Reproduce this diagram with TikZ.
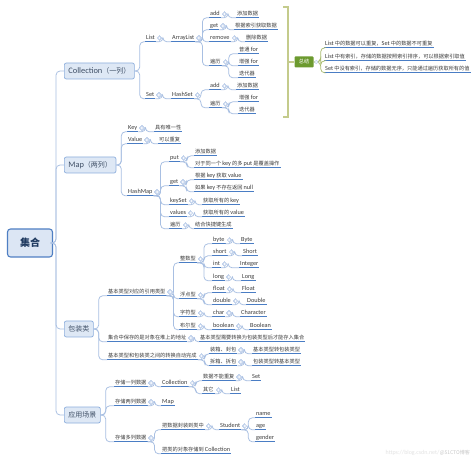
\documentclass[tikz,border=0pt]{standalone}
\usepackage{fontspec}
\setmainfont{Noto Sans CJK SC}
\newfontfamily\lat{Carlito}[Scale=1.2]
\usetikzlibrary{calc}

\definecolor{txtcol}{HTML}{3C3C3C}
\definecolor{ulcol}{HTML}{4A7DC4}
\definecolor{concol}{HTML}{A8BFE2}
\definecolor{knobcol}{HTML}{C3D3EC}
\definecolor{rootdraw}{HTML}{4F7FC3}
\definecolor{rootfill}{HTML}{DCE6F4}
\definecolor{roottxt}{HTML}{1F3A60}
\definecolor{boxdraw}{HTML}{8DAEDD}
\definecolor{boxfill}{HTML}{DEE8F5}
\definecolor{boxtxt}{HTML}{3F4F66}
\definecolor{sumfill}{HTML}{6C9A2F}
\definecolor{brkcol}{HTML}{C4CB8C}
\definecolor{sumcon}{HTML}{A9BC6E}

\newcommand\fsz{\fontsize{5.2}{6}\selectfont}
\newcommand\topiclink[3][7]{\draw[conn] (#2.south east) -- ++(#1,0) |- (#3.south west);}

\begin{document}
\begin{tikzpicture}[x=1pt,y=-1pt,
  topic/.style={anchor=west,inner xsep=1pt,inner ysep=0.6pt,text height=4.6pt,text depth=1.4pt,
    font=\fsz,text=txtcol,
    append after command={(\tikzlastnode.south west) edge[uline] (\tikzlastnode.south east)}},
  en/.style={topic,font=\fsz\lat},
  uline/.style={draw=ulcol,line width=1.1pt},
  conn/.style={draw=concol,line width=0.75pt,rounded corners=4pt},
  knob/.style={draw=knobcol,fill=white,line width=0.6pt},
  rootbox/.style={draw=rootdraw,fill=rootfill,line width=1.1pt,rounded corners=3pt,
    minimum width=45pt,minimum height=28pt,text=roottxt,font=\fontsize{10}{12}\selectfont\bfseries},
  mainbox/.style={anchor=west,draw=boxdraw,fill=boxfill,line width=0.7pt,rounded corners=2pt,
    minimum height=16pt,inner xsep=4pt,text=boxtxt,font=\fontsize{7}{8}\selectfont},
  sumbox/.style={fill=sumfill,text=white,rounded corners=1pt,minimum width=19pt,minimum height=11pt,
    inner sep=1pt,font=\fsz},
  brk/.style={draw=brkcol,line width=1.2pt},
  sumconn/.style={draw=sumcon,line width=0.7pt,rounded corners=4pt}]
\fill[white] (0,0) rectangle (474,462);

\node[rootbox] (root) at (30,243) {集合};
\node[mainbox] (coll) at (64,71) {{\lat Collection}（一列）};
\node[mainbox] (map) at (64,165) {{\lat Map}（两列）};
\node[mainbox] (wrap) at (64,329) {包装类};
\node[mainbox] (scene) at (64,415) {应用场景};

% Collection
\node[en] (list) at (145,38) {List};
\node[en] (arrlist) at (171,38) {ArrayList};
\node[en] (alAdd) at (209,14) {add};
\node[topic] (alAddD) at (236,14) {添加数据};
\node[en] (alGet) at (209,26) {get};
\node[topic] (alGetD) at (234,26) {根据索引获取数据};
\node[en] (alRm) at (209,38) {remove};
\node[topic] (alRmD) at (245,38) {删除数据};
\node[topic] (alIt) at (209,62) {遍历};
\node[topic] (alIt1) at (238,50) {普通 {\lat for}};
\node[topic] (alIt2) at (238,62) {增强 {\lat for}};
\node[topic] (alIt3) at (238,74) {迭代器};
\node[en] (set) at (145,95) {Set};
\node[en] (hashset) at (171,95) {HashSet};
\node[en] (hsAdd) at (209,86) {add};
\node[topic] (hsAddD) at (236,86) {添加数据};
\node[topic] (hsIt) at (209,104) {遍历};
\node[topic] (hsIt1) at (238,98) {增强 {\lat for}};
\node[topic] (hsIt2) at (238,110) {迭代器};

% summary
\draw[brk] (283,7) -- (288,7) -- (288,117) -- (283,117);
\coordinate (brkMid) at (288,62);
\node[sumbox] (sum) at (304,62) {总结};
\draw[brk] (brkMid) -- (sum.west);
\node[topic] (sum1) at (324,44) {{\lat List} 中的数据可以重复，{\lat Set} 中的数据不可重复};
\node[topic] (sum2) at (324,57) {{\lat List} 中有索引，存储的数据按照索引排序，可以根据索引取值};
\node[topic] (sum3) at (324,69) {{\lat Set} 中没有索引，存储的数据无序，只能通过遍历获取所有的值};
\foreach \c in {sum1,sum2,sum3}
  \draw[sumconn] (sum.east) -- ++(7,0) |- (\c.south west);
\draw[knob] ($(sum.east)+(2.5,0)$) circle (1.7pt);

% Map
\node[en] (key) at (127,128) {Key};
\node[topic] (keyD) at (154,128) {具有唯一性};
\node[en] (value) at (127,140) {Value};
\node[topic] (valueD) at (158,140) {可以重复};
\node[en] (hashmap) at (127,192) {HashMap};
\node[en] (put) at (169,158) {put};
\node[topic] (put1) at (194,152) {添加数据};
\node[topic] (put2) at (194,164) {对于同一个 {\lat key} 的多 {\lat put} 是覆盖操作};
\node[en] (get) at (169,182) {get};
\node[topic] (get1) at (194,176) {根据 {\lat key} 获取 {\lat value}};
\node[topic] (get2) at (194,188) {如果 {\lat key} 不存在返回 {\lat null}};
\node[en] (keyset) at (169,201) {keySet};
\node[topic] (keysetD) at (202,201) {获取所有的 {\lat key}};
\node[en] (values) at (169,213) {values};
\node[topic] (valuesD) at (202,213) {获取所有的 {\lat value}};
\node[topic] (mapIt) at (169,225) {遍历};
\node[topic] (mapItD) at (194,225) {结合快捷键生成};

% wrapper classes
\node[topic] (ref) at (107,292) {基本类型对应的引用类型};
\node[topic] (intT) at (179,259) {整数型};
\node[en] (byte) at (212,240) {byte};
\node[en] (byteW) at (240,240) {Byte};
\node[en] (short) at (212,252) {short};
\node[en] (shortW) at (242,252) {Short};
\node[en] (int) at (212,264) {int};
\node[en] (intW) at (239,264) {Integer};
\node[en] (long) at (212,277) {long};
\node[en] (longW) at (241,277) {Long};
\node[topic] (floatT) at (179,295) {浮点型};
\node[en] (float) at (212,289) {float};
\node[en] (floatW) at (241,289) {Float};
\node[en] (double) at (212,301) {double};
\node[en] (doubleW) at (246,301) {Double};
\node[topic] (charT) at (179,313) {字符型};
\node[en] (char) at (212,313) {char};
\node[en] (charW) at (240,313) {Character};
\node[topic] (boolT) at (179,326) {布尔型};
\node[en] (boolean) at (212,326) {boolean};
\node[en] (boolW) at (249,326) {Boolean};
\node[topic] (addr) at (107,338) {集合中保存的是对象在堆上的地址};
\node[topic] (addrD) at (199,338) {基本类型需要转换为包装类型后才能存入集合};
\node[topic] (conv) at (107,356) {基本类型和包装类之间的转换自动完成};
\node[topic] (box) at (209,350) {装箱、封包};
\node[topic] (boxD) at (252,350) {基本类型转包装类型};
\node[topic] (unbox) at (209,362) {拆箱、拆包};
\node[topic] (unboxD) at (252,362) {包装类型转基本类型};

% usage
\node[topic] (one) at (114,383) {存储一列数据};
\node[en] (collection) at (161,383) {Collection};
\node[topic] (norep) at (202,377) {数据不能重复};
\node[en] (setN) at (251,377) {Set};
\node[topic] (other) at (202,390) {其它};
\node[en] (listN) at (230,390) {List};
\node[topic] (two) at (114,402) {存储两列数据};
\node[en] (mapN) at (161,402) {Map};
\node[topic] (multi) at (114,438) {存储多列数据};
\node[topic] (wrapCls) at (161,426) {把数据封装到类中};
\node[en] (student) at (219,426) {Student};
\node[en] (name) at (255,414) {name};
\node[en] (age) at (255,426) {age};
\node[en] (gender) at (255,438) {gender};
\node[topic] (store) at (161,450) {把类的对象存储到 {\lat Collection}};

% connectors
\foreach \c in {coll,map,wrap,scene}
  \draw[conn] (root.east) -- ++(3,0) |- (\c.west);
\foreach \p/\c in {coll/list,coll/set,map/key,map/value,map/hashmap,
    wrap/ref,wrap/addr,wrap/conv,scene/one,scene/two,scene/multi}
  \draw[conn] (\p.east) -- ++(5,0) |- (\c.south west);
\foreach \p/\c in {list/arrlist,arrlist/alAdd,arrlist/alGet,arrlist/alRm,arrlist/alIt,
    alAdd/alAddD,alGet/alGetD,alRm/alRmD,alIt/alIt1,alIt/alIt2,alIt/alIt3,
    set/hashset,hashset/hsAdd,hashset/hsIt,hsAdd/hsAddD,hsIt/hsIt1,hsIt/hsIt2,
    key/keyD,value/valueD,hashmap/put,hashmap/get,hashmap/keyset,hashmap/values,hashmap/mapIt,
    put/put1,put/put2,get/get1,get/get2,keyset/keysetD,values/valuesD,mapIt/mapItD,
    ref/intT,ref/floatT,ref/charT,ref/boolT,intT/byte,intT/short,intT/int,intT/long,
    byte/byteW,short/shortW,int/intW,long/longW,floatT/float,floatT/double,
    float/floatW,double/doubleW,charT/char,char/charW,boolT/boolean,boolean/boolW,
    addr/addrD,conv/box,conv/unbox,box/boxD,unbox/unboxD,
    one/collection,collection/norep,collection/other,norep/setN,other/listN,two/mapN,
    multi/wrapCls,multi/store,wrapCls/student,student/name,student/age,student/gender}
  \topiclink{\p}{\c}
\foreach \n in {list,arrlist,alAdd,alGet,alRm,alIt,set,hashset,hsAdd,hsIt,
    key,value,hashmap,put,get,keyset,values,mapIt,
    ref,intT,byte,short,int,long,floatT,float,double,charT,char,boolT,boolean,addr,conv,box,unbox,
    one,collection,norep,other,two,multi,wrapCls,student}
  \draw[knob] ($(\n.east)+(3.5,0)$) circle (1.7pt);

% watermark
\node[anchor=east,inner sep=0pt,text=gray!45,font=\fontsize{5}{6}\selectfont] (wmTag) at (470,453) {@51CTO博客};
\node[anchor=east,inner sep=0pt,text=gray!22,font=\fontsize{5}{6}\selectfont\lat] (wmUrl) at (wmTag.west) {https://blog.csdn.net/};
\end{tikzpicture}
\end{document}
